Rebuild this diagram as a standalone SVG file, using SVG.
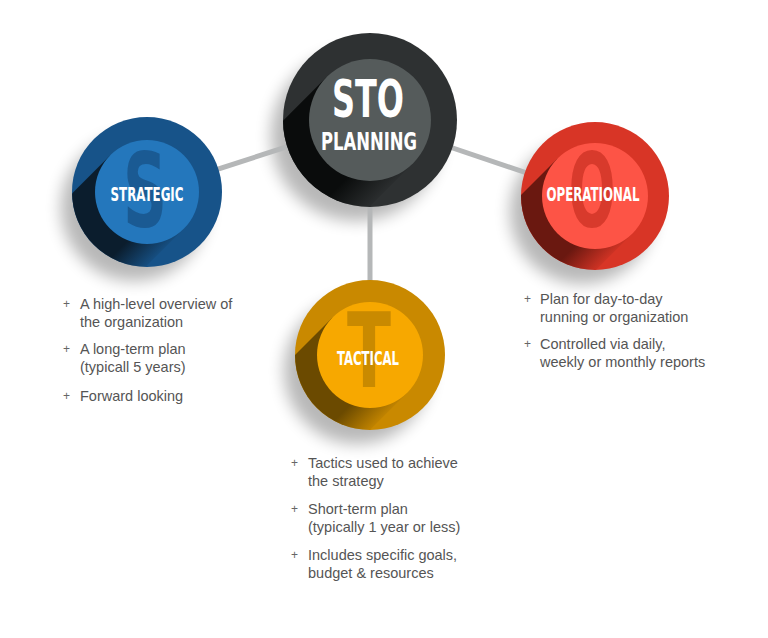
<svg xmlns="http://www.w3.org/2000/svg" width="768" height="638" viewBox="0 0 768 638">
<defs>
<style>
.conn{stroke:#b5b7b8;stroke-width:5;fill:none}
.lbl{font-family:"Liberation Sans Narrow","DejaVu Sans Condensed","Liberation Sans",sans-serif;font-weight:bold;fill:#fff;text-anchor:middle}
.big{font-family:"Liberation Sans Narrow","DejaVu Sans Condensed","Liberation Sans",sans-serif;font-weight:bold;text-anchor:middle;font-size:104px}
.txt{font-family:"Liberation Sans",Arial,sans-serif;font-size:14.5px;fill:#555}
.plus{font-family:"Liberation Sans",Arial,sans-serif;font-size:12px;fill:#666}
.drop{fill:#000;opacity:.28;filter:url(#blur)}
</style>
<filter id="blur" x="-50%" y="-50%" width="200%" height="200%"><feGaussianBlur stdDeviation="8"/></filter>
<linearGradient id="gSto" x1="0" y1="0" x2="0" y2="1"><stop offset="0" stop-color="#0a0c0c" stop-opacity="0.1"/><stop offset="0.3" stop-color="#0a0c0c"/><stop offset="1" stop-color="#0a0c0c"/></linearGradient>
<linearGradient id="gStr" x1="0" y1="0" x2="0" y2="1"><stop offset="0" stop-color="#0b1d2d" stop-opacity="0.1"/><stop offset="0.3" stop-color="#0b1d2d"/><stop offset="1" stop-color="#0b1d2d"/></linearGradient>
<linearGradient id="gOp" x1="0" y1="0" x2="0" y2="1"><stop offset="0" stop-color="#6a1810" stop-opacity="0.1"/><stop offset="0.3" stop-color="#6a1810"/><stop offset="1" stop-color="#6a1810"/></linearGradient>
<linearGradient id="gTac" x1="0" y1="0" x2="0" y2="1"><stop offset="0" stop-color="#6b4a00" stop-opacity="0.1"/><stop offset="0.3" stop-color="#6b4a00"/><stop offset="1" stop-color="#6b4a00"/></linearGradient>
<clipPath id="cSto"><circle cx="370" cy="120" r="87"/></clipPath>
<clipPath id="cStr"><circle cx="147" cy="192" r="75"/></clipPath>
<clipPath id="cOp"><circle cx="595" cy="196" r="74"/></clipPath>
<clipPath id="cTac"><circle cx="370" cy="355" r="75"/></clipPath>
</defs>
<rect width="768" height="638" fill="#fff"/>

<g id="shadows">
<circle class="drop" cx="356" cy="136" r="85"/>
<circle class="drop" cx="134" cy="208" r="73"/>
<circle class="drop" cx="582" cy="212" r="72"/>
<circle class="drop" cx="357" cy="371" r="73"/>
</g>

<g id="connectors">
<line class="conn" x1="370" y1="120" x2="147" y2="192"/>
<line class="conn" x1="370" y1="120" x2="595" y2="196"/>
<line class="conn" x1="370" y1="120" x2="370" y2="355"/>
</g>

<g id="node-strategic">
<circle cx="147" cy="192" r="75" fill="#175389"/>
<g clip-path="url(#cStr)"><rect transform="translate(147 192) rotate(135)" x="0" y="-52" width="90" height="104" fill="url(#gStr)"/></g>
<circle cx="147" cy="192" r="52" fill="#2477bc"/>
<text class="big" x="145" y="227" textLength="44" lengthAdjust="spacingAndGlyphs" fill="#1a5a93">S</text>
<text class="lbl" x="147" y="201" font-size="19.5" textLength="73" lengthAdjust="spacingAndGlyphs">STRATEGIC</text>
</g>

<g id="node-operational">
<circle cx="595" cy="196" r="74" fill="#d83526"/>
<g clip-path="url(#cOp)"><rect transform="translate(595 196) rotate(135)" x="0" y="-53" width="90" height="106" fill="url(#gOp)"/></g>
<circle cx="595" cy="196" r="53" fill="#fd5446"/>
<text class="big" x="592" y="227" textLength="47" lengthAdjust="spacingAndGlyphs" fill="#d83a2c">O</text>
<text class="lbl" x="593" y="201" font-size="19.5" textLength="93" lengthAdjust="spacingAndGlyphs">OPERATIONAL</text>
</g>

<g id="node-tactical">
<circle cx="370" cy="355" r="75" fill="#c98900"/>
<g clip-path="url(#cTac)"><rect transform="translate(370 355) rotate(135)" x="0" y="-53" width="90" height="106" fill="url(#gTac)"/></g>
<circle cx="370" cy="355" r="53" fill="#f7a800"/>
<text class="big" x="369" y="387" textLength="44" lengthAdjust="spacingAndGlyphs" fill="#c98a00">T</text>
<text class="lbl" x="368" y="365" font-size="19.5" textLength="62" lengthAdjust="spacingAndGlyphs">TACTICAL</text>
</g>

<g id="node-sto">
<circle cx="370" cy="120" r="87" fill="#2e3132"/>
<g clip-path="url(#cSto)"><rect transform="translate(370 120) rotate(135)" x="0" y="-61" width="100" height="122" fill="url(#gSto)"/></g>
<circle cx="370" cy="120" r="61" fill="#555b5b"/>
<text class="lbl" x="368" y="117" font-size="52" textLength="72" lengthAdjust="spacingAndGlyphs">STO</text>
<text class="lbl" x="369" y="150" font-size="25" textLength="96" lengthAdjust="spacingAndGlyphs">PLANNING</text>
</g>

<g id="notes-strategic">
<text class="plus" x="63" y="308">+</text>
<text class="txt" x="80" y="309">A high-level overview of</text>
<text class="txt" x="80" y="327">the organization</text>
<text class="plus" x="63" y="353">+</text>
<text class="txt" x="80" y="354">A long-term plan</text>
<text class="txt" x="80" y="372">(typicall 5 years)</text>
<text class="plus" x="63" y="400">+</text>
<text class="txt" x="80" y="401">Forward looking</text>
</g>

<g id="notes-operational">
<text class="plus" x="524" y="303">+</text>
<text class="txt" x="540" y="304">Plan for day-to-day</text>
<text class="txt" x="540" y="322">running or organization</text>
<text class="plus" x="524" y="348">+</text>
<text class="txt" x="540" y="349">Controlled via daily,</text>
<text class="txt" x="540" y="367">weekly or monthly reports</text>
</g>

<g id="notes-tactical">
<text class="plus" x="291" y="467">+</text>
<text class="txt" x="308" y="468">Tactics used to achieve</text>
<text class="txt" x="308" y="486">the strategy</text>
<text class="plus" x="291" y="513">+</text>
<text class="txt" x="308" y="514">Short-term plan</text>
<text class="txt" x="308" y="532">(typically 1 year or less)</text>
<text class="plus" x="291" y="559">+</text>
<text class="txt" x="308" y="560">Includes specific goals,</text>
<text class="txt" x="308" y="578">budget &amp; resources</text>
</g>
</svg>
